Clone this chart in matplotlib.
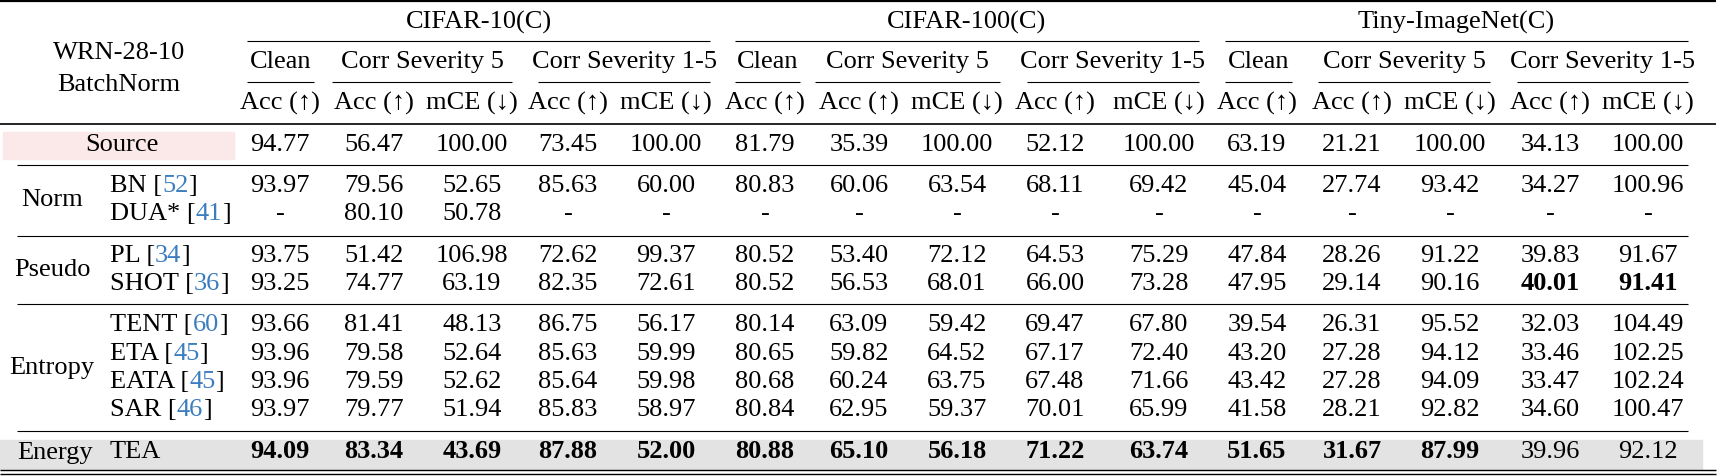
import matplotlib
matplotlib.use("Agg")
import matplotlib.pyplot as plt
from matplotlib.patches import Rectangle

plt.rcParams['font.family'] = ['Liberation Serif', 'DejaVu Serif']

datasets = ["CIFAR-10(C)", "CIFAR-100(C)", "Tiny-ImageNet(C)"]
subgroups = ["Clean", "Corr Severity 5", "Corr Severity 1-5"]
metrics = ["Acc (↑)", "Acc (↑)", "mCE (↓)", "Acc (↑)", "mCE (↓)"]

source = ["94.77","56.47","100.00","73.45","100.00","81.79","35.39","100.00","52.12","100.00","63.19","21.21","100.00","34.13","100.00"]
bn   = ["93.97","79.56","52.65","85.63","60.00","80.83","60.06","63.54","68.11","69.42","45.04","27.74","93.42","34.27","100.96"]
dua  = ["-","80.10","50.78","-","-","-","-","-","-","-","-","-","-","-","-"]
pl   = ["93.75","51.42","106.98","72.62","99.37","80.52","53.40","72.12","64.53","75.29","47.84","28.26","91.22","39.83","91.67"]
shot = ["93.25","74.77","63.19","82.35","72.61","80.52","56.53","68.01","66.00","73.28","47.95","29.14","90.16","40.01","91.41"]
tent = ["93.66","81.41","48.13","86.75","56.17","80.14","63.09","59.42","69.47","67.80","39.54","26.31","95.52","32.03","104.49"]
eta  = ["93.96","79.58","52.64","85.63","59.99","80.65","59.82","64.52","67.17","72.40","43.20","27.28","94.12","33.46","102.25"]
eata = ["93.96","79.59","52.62","85.64","59.98","80.68","60.24","63.75","67.48","71.66","43.42","27.28","94.09","33.47","102.24"]
sar  = ["93.97","79.77","51.94","85.83","58.97","80.84","62.95","59.37","70.01","65.99","41.58","28.21","92.82","34.60","100.47"]
tea  = ["94.09","83.34","43.69","87.88","52.00","80.88","65.10","56.18","71.22","63.74","51.65","31.67","87.99","39.96","92.12"]

method_rows = [("BN [", "52", "]", bn), ("DUA* [", "41", "]", dua),
               ("PL [", "34", "]", pl), ("SHOT [", "36", "]", shot),
               ("TENT [", "60", "]", tent), ("ETA [", "45", "]", eta),
               ("EATA [", "45", "]", eata), ("SAR [", "46", "]", sar),
               ("TEA", "", "", tea)]
groups = [("Norm", 200), ("Pseudo", 270), ("Entropy", 368), ("Energy", 453)]
bold = {("SHOT [", 13), ("SHOT [", 14)} | {("TEA", i) for i in range(13)}

W, H = 1720, 477
fig = plt.figure(figsize=(W/100, H/100), dpi=100)
ax = fig.add_axes([0, 0, 1, 1])
ax.set_xlim(0, W); ax.set_ylim(H, 0); ax.axis('off')

FS = 19
cite = '#3B7DBF'
colx = [280, 374, 472, 568, 666, 765, 859, 957, 1055, 1159, 1257, 1352, 1450, 1550, 1648]

ax.add_patch(Rectangle((3, 133), 231, 27, color='#fbe9e9', zorder=0))
ax.add_patch(Rectangle((0, 441), 1702, 29, color='#e3e3e3', zorder=0))

def hl(y, x0, x1, lw):
    ax.plot([x0, x1], [y, y], color='black', lw=lw, solid_capstyle='butt')

hl(2, 0, 1716, 1.6)
hl(125, 0, 1716, 1.2)
for y in [166, 237, 305, 432]:
    hl(y, 17, 1688, 0.8)
hl(471, 0, 1716, 1.0)
hl(475, 0, 1716, 1.0)

spans = [(247, 710), (735, 1199), (1225, 1688)]
sub_spans = [[(247, 314), (332, 512), (538, 710)],
             [(735, 800), (815, 1000), (1027, 1199)],
             [(1225, 1292), (1318, 1490), (1517, 1688)]]
for d, (a, b) in enumerate(spans):
    ax.text((a+b)/2, 22, datasets[d], ha='center', va='center', fontsize=FS)
    hl(42, a, b, 0.8)
    for s, (c, e) in enumerate(sub_spans[d]):
        ax.text((c+e)/2, 62, subgroups[s], ha='center', va='center', fontsize=FS)
        hl(83, c, e, 0.8)
    for m in range(5):
        ax.text(colx[d*5+m], 103, metrics[m], ha='center', va='center', fontsize=FS)

ax.text(119, 53, "WRN-28-10", ha='center', va='center', fontsize=FS)
ax.text(119, 85, "BatchNorm", ha='center', va='center', fontsize=FS)

ax.text(122, 145, "Source", ha='center', va='center', fontsize=FS)
for i, v in enumerate(source):
    ax.text(colx[i], 145, v, ha='center', va='center', fontsize=FS)

for name, x in groups:
    ax.text({"Norm": 52, "Pseudo": 52, "Entropy": 52, "Energy": 55}[name], x, name,
            ha='center', va='center', fontsize=FS)

row_y = [186, 214, 256, 284, 325, 354, 382, 410, 452]
fig.canvas.draw()
r = fig.canvas.get_renderer()
for (pre, num, post, vals), y in zip(method_rows, row_y):
    x = 110
    for part, col in [(pre, 'black'), (num, cite), (post, 'black')]:
        if not part:
            continue
        t = ax.text(x, y, part, ha='left', va='center', fontsize=FS, color=col)
        x += t.get_window_extent(renderer=r).width
    for i, v in enumerate(vals):
        fw = 'bold' if (pre, i) in bold else 'normal'
        ax.text(colx[i], y, v, ha='center', va='center', fontsize=FS, fontweight=fw)

fig.savefig("out.png", dpi=100)
